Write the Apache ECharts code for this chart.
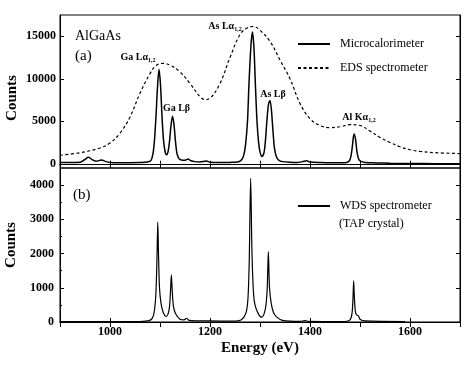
<!DOCTYPE html>
<html>
<head>
<meta charset="utf-8">
<script src="https://cdn.jsdelivr.net/npm/echarts@6/dist/echarts.min.js"></script>
<style>html,body{margin:0;padding:0;background:#fff}#c{width:474px;height:366px}</style>
</head>
<body>
<div id="c"></div>
<script>
// ---- data (energy eV, counts) ----
const microcalorimeter = [[900,150],[920,150],[940,180],[950,500],[957,760],[965,450],[972,300],[983,440],[992,250],[1000,150],[1020,130],[1040,130],[1060,140],[1075,200],[1082,400],[1086,1200],[1089,2800],[1092,5600],[1095,9000],[1098,11100],[1101,9300],[1104,5600],[1107,2800],[1110,1500],[1113,1050],[1116,1400],[1119,2600],[1122,4500],[1125,5600],[1128,4600],[1131,2600],[1134,1200],[1138,600],[1143,450],[1150,420],[1156,550],[1162,350],[1170,250],[1180,220],[1193,320],[1200,180],[1220,150],[1240,160],[1255,200],[1262,400],[1267,900],[1271,2200],[1275,5000],[1278,9500],[1282,14000],[1285,15500],[1288,13500],[1291,9000],[1294,5000],[1297,2600],[1300,1400],[1304,850],[1308,1300],[1311,2800],[1314,5200],[1317,7000],[1320,7450],[1323,6200],[1326,3800],[1329,1800],[1333,800],[1338,400],[1345,250],[1360,170],[1375,150],[1385,250],[1393,360],[1400,200],[1420,140],[1450,120],[1470,130],[1478,300],[1482,900],[1485,2200],[1488,3500],[1491,2900],[1494,1400],[1497,600],[1501,300],[1510,150],[1530,100],[1560,60],[1600,30],[1650,10],[1700,0]];
const edsSpectrometer = [[900,1000],[940,1300],[980,1850],[1000,2450],[1020,3600],[1040,5500],[1060,8300],[1080,10600],[1093,11600],[1107,11800],[1120,11600],[1140,10800],[1160,9450],[1180,7900],[1190,7550],[1200,7700],[1220,9450],[1240,12500],[1260,15200],[1275,16000],[1287,16150],[1300,15700],[1320,14400],[1340,12200],[1360,10000],[1380,7100],[1400,5300],[1420,4500],[1440,4250],[1460,4350],[1480,4600],[1500,4500],[1520,3850],[1540,3100],[1560,2500],[1580,2000],[1600,1650],[1620,1450],[1650,1300],[1700,1200]];
const wdsSpectrometer = [[900,10],[1000,10],[1060,15],[1078,40],[1085,120],[1089,350],[1092,900],[1094,1900],[1095.5,2920],[1097,2000],[1099,1000],[1102,550],[1106,300],[1112,160],[1116,230],[1119,450],[1121,900],[1122.7,1375],[1124.5,900],[1127,450],[1131,250],[1140,80],[1148,60],[1153,110],[1158,50],[1200,30],[1250,25],[1262,60],[1268,150],[1273,320],[1276,700],[1278.5,1800],[1281.3,4200],[1284,2000],[1287,850],[1290,500],[1296,260],[1302.7,140],[1308,230],[1312,500],[1314.5,1000],[1316.7,2055],[1319,1000],[1322.7,520],[1327,280],[1333,150],[1345,50],[1380,20],[1390,40],[1396,20],[1470,15],[1480,60],[1484,250],[1486,700],[1487.3,1200],[1488.8,700],[1491,280],[1494,200],[1497,180],[1500,80],[1510,30],[1590,15]];
const energyTicks = [1000,1200,1400,1600];
const countsTicksA = [0,5000,10000,15000];
const countsTicksB = [0,1000,2000,3000,4000];
const countsMinorB = [500,1500,2500,3500];
const peakLabels = [
  {name:'Ga Lα', sub:'1,2', coord:[1056,12560]},
  {name:'Ga Lβ', sub:'', coord:[1133,6560]},
  {name:'As Lα', sub:'1,2', coord:[1230,16200]},
  {name:'As Lβ', sub:'', coord:[1326,8200]},
  {name:'Al Kα', sub:'1,2', coord:[1498,5460]}
];

const F = 'Liberation Serif, Times New Roman, serif';
const K = '#000';
const tickStyle = {lineStyle:{color:K,width:1}};
const plain = v => String(v);
function xAx(grid, pos, opts){
  return Object.assign({type:'value', gridIndex:grid, position:pos, min:900, max:1700, interval:100,
    axisLine:{show:true,lineStyle:{color:K,width:1}}, splitLine:{show:false},
    axisTick:Object.assign({show:true,inside:true,length:4},tickStyle),
    axisLabel:{show:false}}, opts||{});
}
function yAx(grid, pos, min, max, ticks, opts){
  return Object.assign({type:'value', gridIndex:grid, position:pos, min:min, max:max,
    axisLine:{show:true,lineStyle:{color:K,width:1}}, splitLine:{show:false},
    axisTick:Object.assign({show:true,inside:true,length:4,customValues:ticks},tickStyle),
    axisLabel:{show:false}}, opts||{});
}
const labelStyle = {show:true, color:K, fontFamily:F, fontWeight:'bold', fontSize:12, margin:5, formatter:plain};

const chart = echarts.init(document.getElementById('c'), null, {renderer:'canvas'});
chart.setOption({
  animation:false,
  backgroundColor:'#fff',
  grid:[
    {left:60, right:14, top:15, height:153, show:true, borderColor:K, borderWidth:1, outerBoundsMode:'none', containLabel:false},
    {left:60, right:14, top:168, height:154, show:true, borderColor:K, borderWidth:1, outerBoundsMode:'none', containLabel:false}
  ],
  xAxis:[
    xAx(0,'bottom',{axisTick:Object.assign({show:true,inside:true,length:3},tickStyle)}),
    xAx(0,'top',{interval:100}),
    xAx(1,'bottom',{interval:100,
      axisTick:Object.assign({show:true,inside:true,length:4,customValues:energyTicks},tickStyle),
      axisLabel:Object.assign({},labelStyle,{customValues:energyTicks,margin:4,fontSize:12}),
      name:'Energy (eV)', nameLocation:'middle', nameGap:19,
      nameTextStyle:{color:K,fontFamily:F,fontWeight:'bold',fontSize:15}}),
    xAx(1,'top',{axisTick:Object.assign({show:true,inside:true,length:5},tickStyle)})
  ],
  yAxis:[
    yAx(0,'left',-500,17500,countsTicksA,{
      axisLabel:Object.assign({},labelStyle,{customValues:countsTicksA,margin:4})}),
    yAx(0,'right',-500,17500,countsTicksA),
    yAx(1,'left',0,4500,countsTicksB,{
      axisLabel:Object.assign({},labelStyle,{customValues:countsTicksB,margin:6}),
      name:'Counts', nameLocation:'middle', nameGap:36,
      nameTextStyle:{color:K,fontFamily:F,fontWeight:'bold',fontSize:15}}),
    yAx(1,'right',0,4500,countsTicksB),
    yAx(1,'left',0,4500,countsMinorB,{axisLine:{show:false},
      axisTick:Object.assign({show:true,inside:true,length:2,customValues:countsMinorB},tickStyle)})
  ],
  legend:[
    {data:['Microcalorimeter','EDS spectrometer'], orient:'vertical', left:292, top:33,
     itemWidth:32, itemHeight:14, itemGap:12, selectedMode:false, itemStyle:{opacity:0},
     textStyle:{color:K,fontFamily:F,fontSize:12,padding:[0,0,0,5]}},
    {data:['WDS spectrometer'], orient:'vertical', left:292, top:195,
     itemWidth:32, itemHeight:14, selectedMode:false, itemStyle:{opacity:0},
     textStyle:{color:K,fontFamily:F,fontSize:12,padding:[0,0,0,5]}}
  ],
  graphic:[
    {type:'text', x:12, y:98, rotation:Math.PI/2,
     style:{text:'Counts', fill:K, font:'bold 15px '+F, textAlign:'center', textVerticalAlign:'middle'}},
    {type:'text', left:75, top:29, style:{text:'AlGaAs', fill:K, font:'14px '+F}},
    {type:'text', left:75, top:49, style:{text:'(a)', fill:K, font:'15px '+F}},
    {type:'text', left:73, top:188, style:{text:'(b)', fill:K, font:'15px '+F}},
    {type:'text', left:339, top:218, style:{text:'(TAP crystal)', fill:K, font:'12px '+F}}
  ],
  series:[
    {name:'Microcalorimeter', type:'line', xAxisIndex:0, yAxisIndex:0, data:microcalorimeter,
     symbol:'none', smooth:0.3, lineStyle:{color:K,width:1.5}, itemStyle:{color:K},
     markPoint:{symbol:'circle', symbolSize:0, silent:true,
       label:{show:true, position:'inside', color:K,
         formatter:function(p){const s=p.data.sub; return '{m|'+p.name+'}'+(s?'{s|'+s+'}':'');},
         rich:{m:{fontFamily:F,fontWeight:'bold',fontSize:10,color:K},
               s:{fontFamily:F,fontWeight:'bold',fontSize:6,color:K,verticalAlign:'bottom',padding:[6,0,0,0]}}},
       data:peakLabels.map(d=>({name:d.name, sub:d.sub, coord:d.coord}))}},
    {name:'EDS spectrometer', type:'line', xAxisIndex:0, yAxisIndex:0, data:edsSpectrometer,
     symbol:'none', smooth:0.4, lineStyle:{color:K,width:1.2,type:[3,2.5]}, itemStyle:{color:K}},
    {name:'WDS spectrometer', type:'line', xAxisIndex:2, yAxisIndex:2, data:wdsSpectrometer,
     symbol:'none', smooth:0.3, lineStyle:{color:K,width:1.2}, itemStyle:{color:K}}
  ]
});
</script>
</body>
</html>
